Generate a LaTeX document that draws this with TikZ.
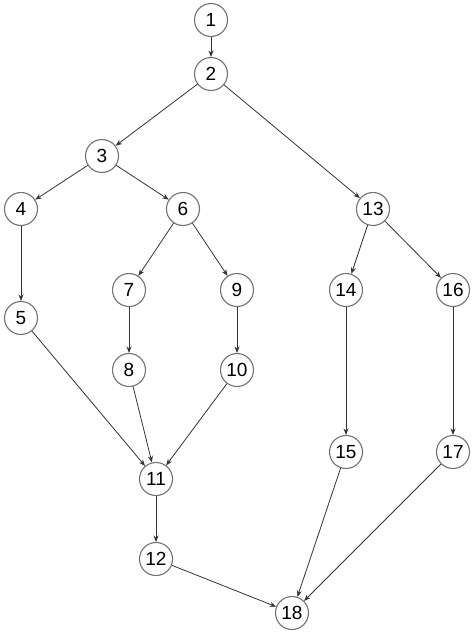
\documentclass[tikz,border=0pt]{standalone}
\usepackage{fontspec}
\setmainfont{Liberation Sans}
\usetikzlibrary{arrows.meta}

\begin{document}
\begin{tikzpicture}[x=1pt, y=-1pt,
    vert/.style={circle, draw=black!55, line width=1.1pt, fill=white,
                 minimum size=33pt, inner sep=0pt, font=\fontsize{19}{21}\selectfont},
    edge/.style={draw=black!80, line width=0.8pt, -{Stealth[length=6.5pt, width=5pt]}}]

  % Frame
  \useasboundingbox (0,0) rectangle (474,635);

  % Vertices
  \node[vert] (n1) at (211,20) {1};
  \node[vert] (n2) at (211,74) {2};
  \node[vert] (n3) at (102,156) {3};
  \node[vert] (n4) at (21,209) {4};
  \node[vert] (n5) at (21,318) {5};
  \node[vert] (n6) at (183,209) {6};
  \node[vert] (n7) at (129,290) {7};
  \node[vert] (n8) at (129,370) {8};
  \node[vert] (n9) at (237,290) {9};
  \node[vert] (n10) at (237,370) {10};
  \node[vert] (n11) at (156,479) {11};
  \node[vert] (n12) at (156,559) {12};
  \node[vert] (n13) at (373,209) {13};
  \node[vert] (n14) at (346,290) {14};
  \node[vert] (n15) at (346,452) {15};
  \node[vert] (n16) at (453,290) {16};
  \node[vert] (n17) at (453,452) {17};
  \node[vert] (n18) at (292,613) {18};

  % Edges
  \foreach \a/\b in {1/2, 2/3, 2/13, 3/4, 3/6, 4/5, 6/7, 6/9, 7/8, 9/10,
                     5/11, 8/11, 10/11, 11/12, 12/18,
                     13/14, 13/16, 14/15, 16/17, 15/18, 17/18}
    \draw[edge] (n\a) -- (n\b);

\end{tikzpicture}
\end{document}
